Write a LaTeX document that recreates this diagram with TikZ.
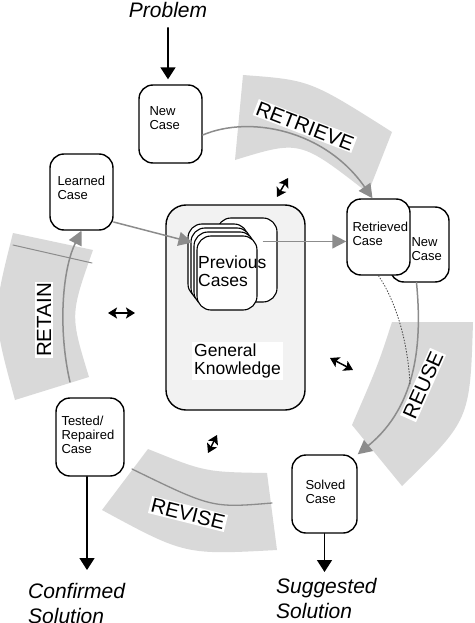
\documentclass[tikz,border=0pt]{standalone}
\usepackage{fontspec}
\setmainfont{Liberation Sans}
\usetikzlibrary{arrows.meta}
\definecolor{bandgray}{gray}{0.85}
\definecolor{flowgray}{gray}{0.55}
\definecolor{kbgray}{gray}{0.95}
\tikzset{
  casebox/.style={draw,line width=1.4pt,rounded corners=14pt,fill=white,inner sep=0pt},
  card/.style={draw,line width=1.1pt,rounded corners=14pt,fill=white,inner sep=0pt,minimum width=60pt,minimum height=74pt},
  casetext/.style={font=\fontsize{13}{14}\selectfont,align=left,inner sep=0pt,anchor=north west},
  bigtext/.style={font=\fontsize{17.5}{18.5}\selectfont,align=left,inner sep=0pt},
  iotext/.style={font=\fontsize{21}{25}\selectfont\itshape,align=left,inner sep=0pt,anchor=north west},
  phase/.style={font=\fontsize{20.5}{20.5}\selectfont,fill=white,inner sep=1.5pt},
  band/.style={fill=bandgray},
  flow/.style={draw=flowgray,line width=1.5pt,-{Triangle[length=14pt,width=14pt]}},
  io/.style={line width=1.5pt,-{Triangle[length=12pt,width=15pt]}},
  link/.style={line width=1.5pt,{Stealth[length=9pt,width=11pt,inset=2pt]}-{Stealth[length=9pt,width=11pt,inset=2pt]}}
}
\begin{document}
\begin{tikzpicture}[x=1pt,y=-1pt,line join=round,line cap=round]
\useasboundingbox (0,0) rectangle (474,623);
% the four phases
\fill[band] (243,75) .. controls (310,80) .. (392,132) -- (368,193) .. controls (300,140) .. (235,160) -- cycle;
\fill[band] (352,425) .. controls (378,365) .. (392,322) -- (473,322) .. controls (470,420) .. (402,486) -- cycle;
\fill[band] (148,449) .. controls (205,472) .. (267,473) -- (277,550) .. controls (185,555) .. (102,510) -- cycle;
\fill[band] (15,400) .. controls (-8,316) .. (13,233) -- (93,250) .. controls (70,315) .. (89,377) -- cycle;
\draw[flowgray,line width=1pt] (13,245) -- (92,263);
\node[phase,rotate=-21] (retrieve) at (305,126) {RETRIEVE};
\node[phase,rotate=66] (reuse) at (423,385) {REUSE};
\node[phase,rotate=-14] (revise) at (188,514) {REVISE};
\node[phase,rotate=90] (retain) at (44,320) {RETAIN};
% case base
\node[casebox,fill=kbgray,rounded corners=20pt,minimum width=139pt,minimum height=205pt] (knowledge) at (235.5,307.5) {};
\node[card,minimum height=84pt] (back) at (247,260) {};
\foreach \i in {3,2,1,0}
  \node[card] (prev\i) at ({227-3*\i},{273-4*\i}) {};
\node[bigtext,anchor=west] (prevtext) at (198,271.3) {Previous\\Cases};
\node[bigtext,fill=white,inner xsep=2pt,inner ysep=2pt,anchor=west] (gk) at (192,361) {General\\Knowledge};
% cases
\node[casebox,minimum width=63pt,minimum height=78pt] (newcase) at (170.5,124) {};
\node[casebox,minimum width=63pt,minimum height=76pt] (learned) at (81.5,192) {};
\node[casebox,minimum width=59pt,minimum height=75pt] (newcopy) at (419.5,244.5) {};
\node[casebox,minimum width=63pt,minimum height=76pt] (retrieved) at (378.5,237) {};
\node[casebox,minimum width=68pt,minimum height=78pt] (tested) at (90,437) {};
\node[casebox,minimum width=65pt,minimum height=78pt] (solved) at (324.5,494) {};
\node[casetext] (newcasetext) at ([shift={(11,22.5)}]newcase.north west) {New\\Case};
\node[casetext] (learnedtext) at ([shift={(8,23)}]learned.north west) {Learned\\Case};
\node[casetext] (newcopytext) at ([shift={(22,31)}]newcopy.north west) {New\\Case};
\node[casetext] (retrievedtext) at ([shift={(6,24)}]retrieved.north west) {Retrieved\\Case};
\node[casetext] (testedtext) at ([shift={(6,19)}]tested.north west) {Tested/\\Repaired\\Case};
\node[casetext] (solvedtext) at ([shift={(14,26)}]solved.north west) {Solved\\Case};
% input and output
\node[iotext,anchor=north] (problem) at (168,2) {Problem};
\node[iotext] (confirmed) at (28,583) {Confirmed\\Solution};
\node[iotext] (suggested) at (276,578) {Suggested\\Solution};
\draw[io,shorten <=10pt,shorten >=5pt] (problem.south) -- (problem.south |- newcase.north);
\draw[io,shorten >=13pt] ([shift={(-3,0)}]tested.south) -- ([shift={(-3,0)}]tested.south |- confirmed.north);
\draw[io,shorten >=6pt] (solved.south) -- (solved.south |- suggested.north);
% the cycle
\coordinate (retainfoot) at (70,382);
\coordinate (revisea) at (132,469);
\coordinate (reviseb) at (272,503);
\coordinate (reusejoin) at (410,385);
\draw[flow] ([shift={(0,11)}]newcase.east) .. controls (250,115) and (325,130) .. ([shift={(-6,0)}]retrieved.north);
\draw[flow] ([shift={(-3,0)}]newcopy.south) .. controls (422,340) and (418,405) .. (solved.north east);
\draw[draw=black!70,line width=0.9pt,dotted] (retrieved.south) .. controls (395,300) and (408,340) .. (reusejoin);
\draw[flowgray,line width=1.3pt] (revisea) .. controls (212,508) .. (reviseb);
\draw[flow] (retainfoot) .. controls (58,330) and (62,270) .. (learned.south);
\draw[flow] (learned.-43) -- ([shift={(-4,7)}]prev0.north west);
\draw[flow] ([shift={(6,6)}]prev0.north east) coordinate (prevout) -- (prevout -| retrieved.west);
% links to the case base
\draw[link] (277,197) -- (288,178);
\draw[link] (108,313) -- (135,313);
\draw[link] (330,358) -- (353,370);
\draw[link] (217,435) -- (208,453);
\end{tikzpicture}
\end{document}
